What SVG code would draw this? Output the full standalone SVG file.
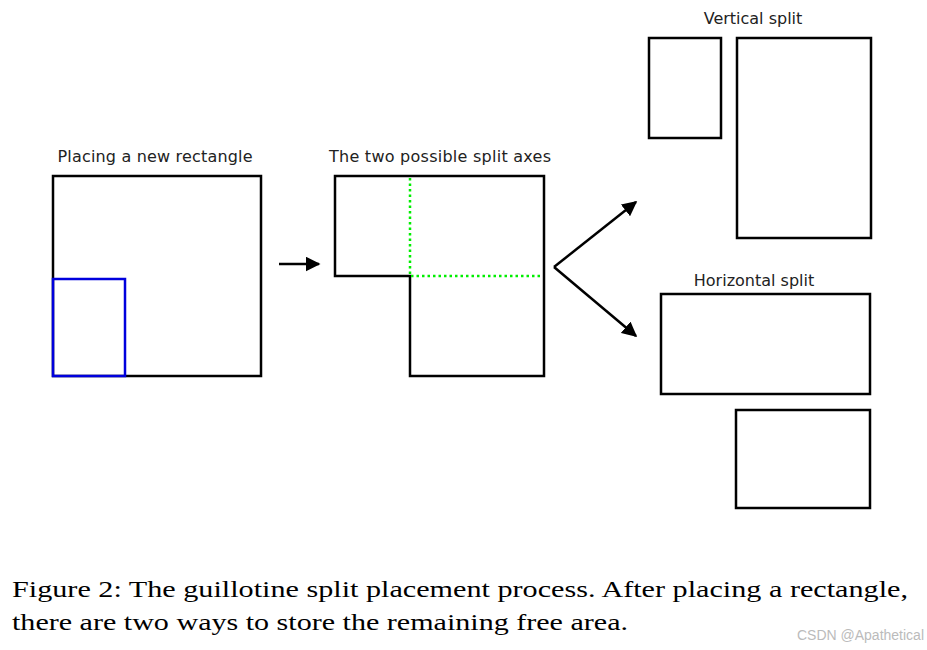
<svg xmlns="http://www.w3.org/2000/svg" width="927" height="650" viewBox="0 0 927 650">
<defs>
<style>
.b{fill:none;stroke:#000;stroke-width:2.5}
.l{font-family:"DejaVu Sans",sans-serif;font-size:16px;fill:#222;text-anchor:middle}
.c{font-family:"Liberation Serif",serif;font-size:24px;fill:#000}
.a{stroke:#000;stroke-width:2.5;fill:none}
</style>
<marker id="ah" viewBox="0 0 10 10" refX="9" refY="5" markerWidth="6" markerHeight="6" orient="auto"><path d="M0,0L10,5L0,10z" fill="#000"/></marker>
</defs>
<rect width="927" height="650" fill="#fff"/>
<g id="placing">
<text class="l" x="155" y="162" textLength="195">Placing a new rectangle</text>
<rect class="b" x="53" y="176" width="208" height="200"/>
<rect x="53" y="279" width="72" height="97" fill="none" stroke="#0000dd" stroke-width="2.5"/>
</g>
<g id="axes">
<text class="l" x="440" y="162" textLength="222">The two possible split axes</text>
<path class="b" d="M335,176H544V376H410V276H335Z"/>
<path d="M410,178V276H542" fill="none" stroke="#00ee00" stroke-width="2.5" stroke-dasharray="2.5,3"/>
</g>
<g id="vertical">
<text class="l" x="753" y="24">Vertical split</text>
<rect class="b" x="649" y="38" width="72" height="100"/>
<rect class="b" x="737" y="38" width="134" height="200"/>
</g>
<g id="horizontal">
<text class="l" x="754" y="286">Horizontal split</text>
<rect class="b" x="661" y="294" width="209" height="100"/>
<rect class="b" x="736" y="410" width="134" height="98"/>
</g>
<g id="connectors">
<path class="a" d="M279,264H319" marker-end="url(#ah)"/>
<path class="a" d="M554,267L636,202" marker-end="url(#ah)"/>
<path class="a" d="M554,267L636,336" marker-end="url(#ah)"/>
</g>
<g id="caption">
<text class="c" x="12" y="597" textLength="896" lengthAdjust="spacingAndGlyphs">Figure 2: The guillotine split placement process. After placing a rectangle,</text>
<text class="c" x="12" y="630" textLength="616" lengthAdjust="spacingAndGlyphs">there are two ways to store the remaining free area.</text>
<text x="924" y="640" font-family="Liberation Sans,sans-serif" font-size="14" fill="#bbb" text-anchor="end">CSDN @Apathetical</text>
</g>
</svg>
